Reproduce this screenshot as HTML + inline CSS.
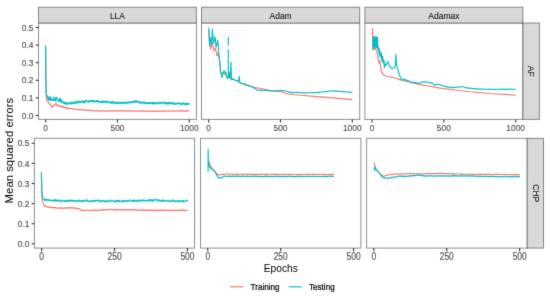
<!DOCTYPE html>
<html><head><meta charset="utf-8"><style>
html,body{margin:0;padding:0;background:#fff;}
svg{display:block;}
text{font-family:"Liberation Sans",Arial,sans-serif;}
.st{font-size:8.5px;fill:#1A1A1A;stroke:#1A1A1A;stroke-width:0.12px;text-anchor:middle;}
.yt{font-size:8.4px;fill:#4D4D4D;stroke:#4D4D4D;stroke-width:0.12px;text-anchor:end;}
.xt{font-size:8.4px;fill:#4D4D4D;stroke:#4D4D4D;stroke-width:0.12px;text-anchor:middle;}
.ti{font-size:10.2px;fill:#000;}
.lg{font-size:8.1px;fill:#000;stroke:#000;stroke-width:0.2px;}
</style></head><body>
<svg width="550" height="296" viewBox="0 0 550 296">
<filter id="b" x="0" y="0" width="550" height="296" filterUnits="userSpaceOnUse" color-interpolation-filters="sRGB"><feConvolveMatrix order="3" kernelMatrix="0.01000 0.08000 0.01000 0.08000 0.64000 0.08000 0.01000 0.08000 0.01000" divisor="1" edgeMode="duplicate"/></filter>
<g filter="url(#b)">
<rect x="0" y="0" width="550" height="296" fill="#fff"/>
<polyline points="45.60,45.50 45.90,85.00 46.10,91.00 46.30,97.00 46.50,98.60 46.70,100.20 46.99,100.61 47.28,101.06 47.56,101.29 47.85,101.45 48.14,102.38 48.42,102.75 48.71,103.02 49.00,103.68 49.30,103.67 49.60,103.85 49.90,103.95 50.20,104.36 50.50,104.56 50.80,105.03 51.10,105.71 51.40,105.75 51.70,106.28 52.00,107.18 52.29,107.11 52.57,106.64 52.86,106.12 53.14,105.58 53.43,105.51 53.71,106.03 54.00,105.55 54.29,104.81 54.57,104.94 54.86,104.90 55.14,104.56 55.43,104.18 55.71,103.19 56.00,103.05 56.25,103.58 56.50,103.91 56.75,105.05 57.00,105.97 57.30,105.67 57.60,105.46 57.90,105.87 58.20,105.76 58.50,105.76 58.80,105.83 59.10,105.54 59.40,106.02 59.70,106.19 60.00,106.07 60.29,105.78 60.59,106.10 60.88,105.72 61.18,105.76 61.47,106.66 61.76,107.05 62.06,107.03 62.35,106.62 62.65,106.27 62.94,106.24 63.24,106.96 63.53,107.41 63.82,107.46 64.12,106.98 64.41,106.96 64.71,107.56 65.00,108.05 65.29,108.04 65.59,107.40 65.88,107.67 66.18,108.13 66.47,107.88 66.76,107.75 67.06,107.49 67.35,108.14 67.65,108.66 67.94,108.73 68.24,108.74 68.53,108.43 68.82,108.14 69.12,108.42 69.41,108.29 69.71,108.54 70.00,108.40 70.29,108.57 70.59,108.45 70.88,108.48 71.18,108.59 71.47,108.72 71.76,108.61 72.06,108.61 72.35,108.54 72.65,108.66 72.94,108.77 73.24,108.77 73.53,108.98 73.82,109.04 74.12,109.19 74.41,109.22 74.71,109.21 75.00,109.39 75.29,109.40 75.59,109.40 75.88,109.27 76.18,109.26 76.47,109.29 76.76,109.52 77.06,109.32 77.35,109.21 77.65,109.18 77.94,109.35 78.24,109.64 78.53,109.63 78.82,109.42 79.12,109.48 79.41,109.61 79.71,109.73 80.00,109.72 80.29,109.82 80.59,109.97 80.88,109.93 81.18,109.78 81.47,109.78 81.76,109.74 82.06,109.65 82.35,109.70 82.65,109.78 82.94,109.84 83.24,109.92 83.53,110.14 83.82,110.36 84.12,110.37 84.41,110.37 84.71,110.36 85.00,110.35 85.30,110.46 85.60,110.39 85.90,110.21 86.20,110.06 86.50,110.16 86.80,110.10 87.10,110.09 87.40,110.32 87.70,110.45 88.00,110.35 88.30,110.48 88.60,110.39 88.90,110.32 89.20,110.58 89.50,110.43 89.80,110.40 90.10,110.55 90.40,110.40 90.70,110.51 91.00,110.39 91.30,110.39 91.60,110.46 91.90,110.67 92.20,110.66 92.50,110.83 92.80,110.78 93.10,110.75 93.40,110.66 93.70,110.56 94.00,110.67 94.30,110.84 94.60,110.72 94.90,110.96 95.20,110.92 95.50,110.76 95.80,110.80 96.10,110.74 96.40,110.73 96.70,110.73 97.00,110.61 97.30,110.85 97.60,111.06 97.90,110.90 98.20,110.98 98.50,110.89 98.80,110.85 99.10,111.02 99.40,110.77 99.70,110.89 100.00,111.17 100.30,111.02 100.60,111.14 100.90,111.15 101.20,111.18 101.50,111.08 101.80,110.99 102.10,111.02 102.40,110.79 102.70,110.86 103.00,110.91 103.30,110.89 103.60,110.75 103.90,110.80 104.20,110.94 104.50,110.98 104.80,111.11 105.10,111.13 105.40,111.20 105.70,111.15 106.00,111.02 106.30,110.92 106.60,111.03 106.90,110.82 107.20,110.79 107.50,111.12 107.80,111.09 108.10,111.10 108.40,111.03 108.70,110.94 109.00,110.69 109.30,110.75 109.60,110.99 109.90,110.95 110.20,110.86 110.50,111.05 110.80,110.85 111.10,110.83 111.40,110.80 111.70,110.95 112.00,110.80 112.30,110.65 112.60,110.60 112.90,110.65 113.20,110.73 113.50,110.89 113.80,110.98 114.10,111.21 114.40,111.26 114.70,111.16 115.00,111.10 115.30,111.18 115.60,111.10 115.90,110.69 116.20,110.63 116.50,110.72 116.80,110.71 117.10,110.85 117.40,110.77 117.70,110.72 118.00,110.70 118.30,110.71 118.60,110.98 118.90,111.04 119.20,110.91 119.50,110.70 119.79,110.84 120.09,110.94 120.39,110.77 120.69,110.74 120.99,110.61 121.29,110.61 121.59,110.72 121.89,110.84 122.19,110.97 122.49,111.09 122.79,110.84 123.08,110.74 123.38,110.96 123.68,110.73 123.98,110.76 124.28,111.16 124.58,111.13 124.88,110.87 125.18,110.75 125.48,110.83 125.78,110.94 126.07,111.12 126.37,110.93 126.67,110.84 126.97,111.14 127.27,111.05 127.57,110.76 127.87,110.74 128.17,110.85 128.47,110.82 128.77,111.02 129.07,111.01 129.36,110.85 129.66,111.13 129.96,111.27 130.26,111.29 130.56,111.20 130.86,111.09 131.16,110.82 131.46,110.67 131.76,110.82 132.06,111.21 132.36,111.25 132.65,111.25 132.95,111.08 133.25,111.07 133.55,110.82 133.85,110.78 134.15,110.90 134.45,111.05 134.75,111.09 135.05,111.06 135.35,111.04 135.64,111.16 135.94,111.30 136.24,111.18 136.54,111.16 136.84,110.90 137.14,110.96 137.44,111.11 137.74,111.11 138.04,110.97 138.34,111.07 138.64,111.32 138.93,111.25 139.23,111.09 139.53,110.84 139.83,110.77 140.13,110.84 140.43,110.97 140.73,111.21 141.03,110.93 141.33,110.90 141.63,110.91 141.93,111.05 142.22,110.86 142.52,110.78 142.82,110.83 143.12,110.97 143.42,111.19 143.72,111.26 144.02,111.05 144.32,111.06 144.62,111.31 144.92,111.26 145.21,111.06 145.51,111.30 145.81,111.32 146.11,111.08 146.41,111.13 146.71,111.00 147.01,111.00 147.31,111.13 147.61,111.18 147.91,111.18 148.21,111.15 148.50,111.10 148.80,111.24 149.10,111.20 149.40,111.36 149.70,111.24 150.00,111.06 150.30,111.01 150.60,111.12 150.89,111.15 151.19,111.23 151.49,111.13 151.79,111.02 152.08,111.20 152.38,111.07 152.68,111.32 152.98,111.45 153.28,111.45 153.57,111.27 153.87,111.02 154.17,111.08 154.47,111.15 154.76,111.20 155.06,111.15 155.36,111.18 155.66,111.02 155.95,111.04 156.25,111.14 156.55,111.06 156.85,111.03 157.15,111.34 157.44,111.36 157.74,111.31 158.04,111.19 158.34,111.38 158.63,111.43 158.93,111.36 159.23,111.06 159.53,111.05 159.82,111.08 160.12,111.12 160.42,110.95 160.72,110.88 161.02,111.06 161.31,111.16 161.61,111.16 161.91,111.31 162.21,111.11 162.50,111.04 162.80,111.22 163.10,111.10 163.40,110.95 163.70,111.03 163.99,111.35 164.29,111.41 164.59,111.20 164.89,111.04 165.18,111.10 165.48,110.95 165.78,110.96 166.08,111.05 166.38,111.01 166.67,111.06 166.97,111.22 167.27,111.00 167.57,110.99 167.86,110.80 168.16,110.75 168.46,110.93 168.76,111.28 169.05,111.30 169.35,111.19 169.65,110.92 169.95,111.05 170.25,111.03 170.54,111.03 170.84,111.10 171.14,110.98 171.44,110.97 171.73,110.90 172.03,110.95 172.33,110.97 172.63,110.83 172.93,110.85 173.22,110.94 173.52,111.04 173.82,111.18 174.12,111.14 174.41,111.13 174.71,111.15 175.01,110.86 175.31,110.75 175.60,110.83 175.90,110.82 176.20,110.98 176.50,110.98 176.80,110.86 177.09,111.05 177.39,111.04 177.69,111.03 177.99,111.23 178.28,111.18 178.58,110.85 178.88,110.84 179.18,111.07 179.48,110.92 179.77,111.01 180.07,110.90 180.37,110.88 180.67,111.04 180.96,111.10 181.26,110.74 181.56,110.75 181.86,110.99 182.15,110.91 182.45,110.91 182.75,111.10 183.05,110.94 183.35,111.08 183.64,111.24 183.94,111.17 184.24,111.12 184.54,111.13 184.83,111.08 185.13,110.89 185.43,111.00 185.73,111.16 186.03,111.22 186.32,111.24 186.62,111.11 186.92,110.77 187.22,110.79 187.51,110.94 187.81,111.08 188.11,110.90 188.41,110.70 188.70,110.60 189.00,110.77 189.30,111.00" fill="none" stroke="#F8766D" stroke-width="1.15" stroke-linejoin="round"/>
<polyline points="45.60,46.00 45.75,63.00 45.90,80.00 46.05,86.00 46.20,92.00 46.33,93.17 46.47,94.33 46.60,95.50 46.78,95.90 46.96,96.66 47.14,96.69 47.32,95.88 47.50,97.06 47.68,98.01 47.86,97.77 48.04,98.69 48.21,99.86 48.39,99.02 48.57,97.53 48.75,96.76 48.93,97.36 49.11,98.65 49.29,100.12 49.46,99.72 49.64,98.79 49.82,99.94 50.00,99.42 50.18,99.00 50.36,97.23 50.54,96.68 50.71,97.82 50.89,100.09 51.07,100.38 51.25,100.52 51.43,99.74 51.61,98.82 51.79,99.04 51.96,99.76 52.14,100.31 52.32,99.69 52.50,100.48 52.68,100.30 52.86,100.36 53.04,99.70 53.21,99.60 53.39,98.83 53.57,98.72 53.75,97.75 53.93,96.94 54.11,97.38 54.29,99.35 54.46,99.79 54.64,100.99 54.82,100.78 55.00,99.84 55.18,100.94 55.36,100.51 55.54,100.28 55.71,99.00 55.89,97.84 56.07,97.54 56.25,98.06 56.43,98.98 56.61,97.68 56.79,97.74 56.96,99.63 57.14,98.45 57.32,98.88 57.50,99.59 57.68,99.98 57.86,100.25 58.04,101.42 58.21,101.09 58.39,100.32 58.57,100.16 58.75,100.37 58.93,101.00 59.11,99.52 59.29,100.13 59.46,99.63 59.64,98.00 59.82,99.04 60.00,101.38 60.17,100.95 60.33,98.65 60.50,98.63 60.67,99.14 60.83,101.04 61.00,99.66 61.17,99.94 61.33,102.70 61.50,101.98 61.67,100.83 61.83,100.37 62.00,101.95 62.17,102.24 62.35,102.24 62.52,101.52 62.70,101.54 62.87,101.90 63.04,102.31 63.22,102.42 63.39,102.73 63.57,102.74 63.74,103.73 63.91,103.70 64.09,102.23 64.26,102.20 64.43,103.09 64.61,103.29 64.78,102.25 64.96,102.24 65.13,102.96 65.30,103.68 65.48,104.24 65.65,104.31 65.83,103.75 66.00,102.96 66.18,103.96 66.35,103.54 66.53,102.47 66.71,102.67 66.88,103.29 67.06,103.12 67.24,103.30 67.41,103.99 67.59,104.07 67.76,103.72 67.94,103.77 68.12,103.56 68.29,104.12 68.47,104.01 68.65,103.89 68.82,102.94 69.00,103.70 69.18,103.71 69.35,103.48 69.53,102.85 69.71,103.02 69.88,102.65 70.06,102.10 70.24,102.34 70.41,103.76 70.59,103.60 70.76,102.65 70.94,102.58 71.12,103.20 71.29,103.53 71.47,102.99 71.65,104.08 71.82,104.13 72.00,103.09 72.17,103.17 72.35,103.06 72.52,103.09 72.70,102.38 72.87,102.73 73.04,103.16 73.22,103.29 73.39,103.51 73.57,103.47 73.74,102.33 73.91,101.88 74.09,102.31 74.26,102.97 74.43,103.59 74.61,103.35 74.78,103.34 74.96,103.32 75.13,102.14 75.30,101.76 75.48,101.92 75.65,101.96 75.83,102.66 76.00,102.90 76.17,101.85 76.35,102.10 76.52,102.49 76.70,102.49 76.87,103.02 77.04,103.03 77.22,102.71 77.39,101.44 77.57,101.04 77.74,101.30 77.91,102.67 78.09,102.78 78.26,101.61 78.43,102.38 78.61,102.83 78.78,102.72 78.96,101.94 79.13,102.06 79.30,101.35 79.48,101.17 79.65,101.84 79.83,101.36 80.00,101.85 80.18,101.61 80.36,101.96 80.54,102.42 80.71,101.62 80.89,101.56 81.07,101.38 81.25,101.18 81.43,101.40 81.61,101.41 81.79,102.23 81.96,102.06 82.14,101.76 82.32,102.41 82.50,101.88 82.68,102.12 82.86,102.14 83.04,101.17 83.21,100.96 83.39,102.42 83.57,102.58 83.75,101.18 83.93,100.84 84.11,101.42 84.29,102.11 84.46,102.89 84.64,103.09 84.82,102.66 85.00,101.54 85.18,101.63 85.36,101.41 85.54,100.84 85.71,100.47 85.89,100.66 86.07,100.90 86.25,100.55 86.43,100.43 86.61,100.61 86.79,101.50 86.96,101.46 87.14,101.09 87.32,101.38 87.50,101.50 87.68,102.02 87.86,102.29 88.04,101.58 88.21,101.49 88.39,101.33 88.57,102.17 88.75,101.73 88.93,100.76 89.11,100.60 89.29,100.48 89.46,100.53 89.64,101.07 89.82,101.85 90.00,101.38 90.18,100.93 90.36,100.98 90.54,101.08 90.71,101.42 90.89,100.63 91.07,100.66 91.25,100.78 91.43,100.88 91.61,101.46 91.79,100.87 91.96,100.60 92.14,100.66 92.32,101.54 92.50,101.43 92.68,101.46 92.86,100.73 93.04,100.29 93.21,100.99 93.39,102.03 93.57,102.12 93.75,101.58 93.93,101.70 94.11,100.85 94.29,101.07 94.46,100.98 94.64,101.02 94.82,101.15 95.00,101.87 95.18,101.60 95.36,101.90 95.54,100.98 95.71,101.06 95.89,101.44 96.07,101.71 96.25,101.30 96.43,101.10 96.61,100.57 96.79,101.00 96.96,101.52 97.14,100.87 97.32,101.01 97.50,100.78 97.68,100.49 97.86,100.78 98.04,101.93 98.21,101.93 98.39,101.31 98.57,101.36 98.75,101.90 98.93,102.06 99.11,102.55 99.29,102.49 99.46,101.81 99.64,101.80 99.82,101.56 100.00,101.20 100.18,101.46 100.36,101.87 100.54,101.80 100.72,101.77 100.90,101.84 101.07,102.42 101.25,102.06 101.43,101.33 101.61,102.12 101.79,102.60 101.97,102.26 102.15,101.49 102.33,101.23 102.51,100.97 102.69,100.84 102.87,101.60 103.04,102.37 103.22,102.40 103.40,102.30 103.58,102.45 103.76,102.04 103.94,101.57 104.12,102.03 104.30,101.94 104.48,102.25 104.66,101.53 104.84,101.22 105.01,101.78 105.19,101.55 105.37,102.19 105.55,102.07 105.73,102.04 105.91,101.36 106.09,101.83 106.27,102.02 106.45,101.50 106.63,101.73 106.81,101.35 106.99,101.40 107.16,101.73 107.34,101.91 107.52,101.32 107.70,101.48 107.88,102.41 108.06,102.50 108.24,101.98 108.42,101.80 108.60,102.24 108.78,102.04 108.96,101.98 109.13,102.44 109.31,102.01 109.49,102.51 109.67,102.56 109.85,102.54 110.03,102.66 110.21,102.86 110.39,103.13 110.57,102.93 110.75,101.88 110.93,101.78 111.10,102.53 111.28,101.85 111.46,101.84 111.64,102.85 111.82,103.35 112.00,103.09 112.18,102.46 112.35,102.41 112.53,103.18 112.71,103.07 112.88,102.47 113.06,101.57 113.24,101.46 113.41,101.76 113.59,102.73 113.76,102.14 113.94,101.92 114.12,102.35 114.29,102.17 114.47,102.74 114.65,103.52 114.82,103.30 115.00,102.66 115.18,103.13 115.35,102.76 115.53,102.60 115.71,102.73 115.88,103.34 116.06,102.86 116.24,103.13 116.41,103.22 116.59,102.99 116.76,102.36 116.94,102.99 117.12,103.72 117.29,103.12 117.47,102.27 117.65,102.01 117.82,102.61 118.00,103.05 118.18,102.15 118.36,102.13 118.54,103.20 118.72,103.64 118.90,103.15 119.08,103.02 119.26,102.55 119.44,102.49 119.62,102.67 119.79,102.50 119.97,102.57 120.15,102.62 120.33,103.52 120.51,103.20 120.69,102.25 120.87,102.44 121.05,103.24 121.23,102.80 121.41,102.26 121.59,102.17 121.77,103.01 121.95,103.32 122.13,103.34 122.31,102.73 122.49,103.33 122.67,103.74 122.85,103.73 123.03,103.45 123.21,102.73 123.38,102.26 123.56,102.66 123.74,102.04 123.92,101.98 124.10,102.36 124.28,102.25 124.46,102.82 124.64,103.26 124.82,102.73 125.00,103.45 125.18,103.57 125.35,102.35 125.53,102.58 125.71,103.21 125.89,103.14 126.06,102.70 126.24,103.04 126.42,102.52 126.60,102.17 126.77,102.60 126.95,103.01 127.13,103.30 127.31,102.82 127.48,102.06 127.66,102.38 127.84,102.44 128.02,102.52 128.19,101.97 128.37,102.63 128.55,102.75 128.73,101.61 128.90,101.61 129.08,102.95 129.26,103.01 129.44,102.26 129.61,102.76 129.79,102.37 129.97,102.23 130.15,102.12 130.32,102.15 130.50,102.77 130.68,102.77 130.85,102.95 131.03,102.77 131.21,102.84 131.39,102.32 131.56,102.07 131.74,101.88 131.92,101.42 132.10,101.97 132.27,101.78 132.45,102.22 132.63,101.56 132.81,102.13 132.98,102.43 133.16,101.86 133.34,101.39 133.52,102.00 133.69,101.57 133.87,101.45 134.05,102.18 134.23,102.35 134.40,101.29 134.58,101.46 134.76,101.78 134.94,101.60 135.11,102.21 135.29,101.75 135.47,100.78 135.65,100.60 135.82,100.76 136.00,101.46 136.18,101.95 136.36,100.99 136.54,100.69 136.72,101.03 136.90,101.58 137.08,101.57 137.26,101.36 137.44,101.31 137.62,102.08 137.80,102.13 137.98,102.15 138.16,101.30 138.34,101.51 138.52,101.87 138.70,102.51 138.88,102.47 139.06,101.97 139.24,101.62 139.42,102.38 139.60,102.96 139.78,103.01 139.96,103.08 140.14,102.48 140.32,101.83 140.50,101.87 140.68,102.76 140.86,103.02 141.04,102.86 141.22,102.87 141.40,102.71 141.58,103.07 141.76,102.81 141.94,102.23 142.12,102.60 142.30,102.68 142.48,102.42 142.66,103.29 142.84,103.16 143.02,102.13 143.20,101.82 143.38,102.04 143.56,103.02 143.74,102.68 143.92,103.18 144.10,102.81 144.28,102.05 144.46,102.10 144.64,102.55 144.82,103.19 145.00,102.74 145.18,102.60 145.36,103.52 145.54,103.03 145.72,102.58 145.90,103.60 146.08,103.49 146.26,102.81 146.44,102.52 146.62,102.91 146.80,102.70 146.98,103.61 147.16,103.73 147.34,103.60 147.52,103.72 147.70,103.69 147.88,103.30 148.06,103.27 148.24,102.66 148.42,103.24 148.60,103.35 148.78,102.48 148.96,102.46 149.14,103.65 149.32,103.62 149.50,102.64 149.68,102.77 149.86,102.39 150.04,102.60 150.22,103.60 150.40,103.61 150.58,103.37 150.76,102.94 150.94,103.41 151.12,103.33 151.30,102.85 151.48,102.78 151.66,102.66 151.84,102.85 152.02,102.53 152.20,102.94 152.38,103.61 152.56,103.48 152.74,103.04 152.92,102.62 153.10,103.36 153.28,103.59 153.46,103.99 153.64,104.13 153.82,103.92 154.00,103.42 154.18,103.23 154.35,102.27 154.53,102.21 154.71,103.28 154.88,103.62 155.06,103.65 155.24,102.88 155.41,102.99 155.59,103.45 155.76,103.44 155.94,103.48 156.12,103.13 156.29,103.60 156.47,103.87 156.65,103.68 156.82,103.17 157.00,103.38 157.18,102.86 157.35,103.19 157.53,103.76 157.71,103.40 157.88,103.02 158.06,102.70 158.24,102.80 158.41,102.94 158.59,103.14 158.76,102.90 158.94,102.41 159.12,102.51 159.29,103.49 159.47,103.09 159.65,102.28 159.82,102.46 160.00,102.81 160.18,102.69 160.36,103.32 160.54,103.19 160.72,103.23 160.90,103.02 161.08,102.64 161.26,103.55 161.44,103.46 161.62,102.55 161.80,102.84 161.98,102.89 162.16,102.57 162.34,102.51 162.52,102.57 162.70,102.99 162.88,102.71 163.06,102.17 163.24,102.17 163.42,102.37 163.60,103.05 163.78,103.11 163.96,102.91 164.14,103.11 164.32,103.12 164.50,102.44 164.68,102.46 164.86,103.40 165.04,102.70 165.22,102.63 165.40,103.54 165.58,103.78 165.76,102.73 165.94,102.97 166.12,103.43 166.30,102.56 166.48,102.61 166.66,103.39 166.84,103.55 167.02,102.70 167.20,102.91 167.38,103.33 167.56,103.36 167.74,103.57 167.92,104.28 168.10,104.11 168.28,102.93 168.46,102.69 168.64,102.79 168.82,102.43 169.00,102.57 169.18,103.48 169.35,104.00 169.53,103.10 169.71,102.82 169.88,103.26 170.06,102.84 170.24,102.29 170.41,102.68 170.59,103.55 170.76,103.05 170.94,103.37 171.12,103.49 171.29,103.80 171.47,103.44 171.65,102.87 171.82,102.71 172.00,102.75 172.18,102.78 172.35,102.84 172.53,103.08 172.71,103.55 172.88,103.36 173.06,102.80 173.24,103.39 173.41,104.38 173.59,104.35 173.76,103.31 173.94,102.81 174.12,102.86 174.29,102.76 174.47,103.23 174.65,104.32 174.82,104.38 175.00,103.75 175.18,103.76 175.36,104.05 175.54,104.13 175.72,104.15 175.89,104.14 176.07,103.70 176.25,103.21 176.43,103.83 176.61,103.83 176.79,103.05 176.97,103.07 177.15,103.66 177.32,103.72 177.50,103.98 177.68,103.58 177.86,103.88 178.04,103.75 178.22,103.03 178.40,103.07 178.57,103.25 178.75,103.11 178.93,102.83 179.11,103.11 179.29,103.50 179.47,103.39 179.65,103.76 179.83,103.65 180.00,103.48 180.18,103.41 180.36,103.82 180.54,103.48 180.72,104.28 180.90,104.37 181.08,104.54 181.26,104.01 181.44,103.51 181.61,103.73 181.79,104.40 181.97,104.00 182.15,103.47 182.33,103.03 182.51,103.04 182.69,103.48 182.87,103.86 183.04,104.08 183.22,103.37 183.40,103.38 183.58,103.12 183.76,103.27 183.94,103.91 184.12,104.25 184.30,103.31 184.47,103.27 184.65,104.04 184.83,103.81 185.01,103.35 185.19,104.19 185.37,104.82 185.55,104.76 185.73,104.92 185.90,104.45 186.08,103.93 186.26,104.33 186.44,103.97 186.62,103.25 186.80,103.73 186.98,104.64 187.16,104.35 187.33,103.93 187.51,104.30 187.69,104.17 187.87,103.50 188.05,103.89 188.23,104.23 188.41,103.56 188.59,103.66 188.76,103.30 188.94,103.58 189.12,104.22 189.30,103.92" fill="none" stroke="#00BFC4" stroke-width="1.15" stroke-linejoin="round"/>
<polyline points="208.80,29.50 209.40,40.00 210.50,49.00 212.30,42.50 214.00,51.00 215.50,48.00 217.00,55.80 218.00,53.00 219.50,60.00 220.60,73.20 222.60,72.70 226.10,75.20 228.20,77.70 231.20,78.70 235.30,80.30 241.30,83.30 245.80,84.60 254.50,87.20 269.10,90.40 280.70,91.80 288.00,94.00 298.20,95.00 320.00,96.90 330.00,97.60 352.40,99.60" fill="none" stroke="#F8766D" stroke-width="1.15" stroke-linejoin="round"/>
<polyline points="208.80,27.40 209.15,36.70 209.50,46.00 210.00,42.00 210.50,38.00 211.00,41.00 211.50,44.00 211.95,36.70 212.40,29.40 212.77,33.93 213.13,38.47 213.50,43.00 213.90,41.50 214.30,40.00 214.70,38.40 215.10,36.80 215.55,41.90 216.00,47.00 216.50,45.50 217.00,44.00 217.40,42.10 217.80,40.20 218.20,45.13 218.60,50.07 219.00,55.00 219.30,57.50 219.60,60.00 219.90,63.00 220.20,66.00 220.50,69.35 220.80,72.70 221.15,73.85 221.50,75.00 221.80,76.35 222.10,77.70 222.50,75.95 222.90,74.20 223.20,73.10 223.50,72.00 223.80,71.30 224.10,70.60 224.60,71.90 225.10,73.20 225.50,72.70 225.90,72.20 226.27,74.20 226.63,76.20 227.00,78.20 227.45,77.80 227.90,77.40 228.35,77.00 228.77,74.60 229.20,72.20 229.70,78.20 230.05,77.10 230.40,76.00 230.90,62.00 231.40,79.80 231.83,79.43 232.27,79.07 232.70,78.70 233.10,78.97 233.50,79.25 233.90,79.53 234.30,79.80 234.80,80.05 235.30,80.30 235.80,80.55 236.30,80.80 236.76,80.74 237.22,80.68 237.68,80.62 238.14,80.56 238.60,80.50 238.95,78.35 239.30,76.20 239.80,82.80 240.30,83.05 240.80,83.30 241.30,83.59 241.80,83.70 242.23,83.65 242.67,83.71 243.10,83.80 243.53,83.80 243.97,83.63 244.40,83.44 244.90,84.16 245.40,84.82 245.90,84.87 246.40,85.13 246.90,85.29 247.40,85.50 247.90,85.71 248.40,85.87 248.84,85.97 249.29,86.07 249.73,86.14 250.17,86.30 250.61,86.40 251.06,86.62 251.50,86.84 252.00,87.10 252.50,87.20 253.00,87.33 253.50,87.65 254.00,87.88 254.50,88.20 255.00,88.38 255.50,88.73 256.00,89.18 256.50,89.41 257.00,89.69 257.50,90.04 257.98,90.06 258.47,90.01 258.95,90.17 259.43,90.30 259.92,90.27 260.40,90.32 260.88,90.41 261.37,90.41 261.85,90.39 262.33,90.42 262.82,90.39 263.30,90.26 263.78,90.27 264.27,90.26 264.75,90.27 265.23,90.35 265.72,90.35 266.20,90.43 266.69,90.44 267.17,90.38 267.66,90.47 268.15,90.57 268.63,90.64 269.12,90.54 269.61,90.59 270.09,90.73 270.58,90.81 271.07,90.89 271.55,90.85 272.04,90.90 272.53,91.08 273.01,90.98 273.50,90.95 273.98,90.94 274.46,90.91 274.94,90.87 275.42,90.94 275.90,90.96 276.38,90.74 276.86,90.73 277.34,90.81 277.82,90.86 278.30,90.79 278.78,90.53 279.26,90.55 279.74,90.57 280.22,90.36 280.70,90.35 281.18,90.40 281.67,90.61 282.15,90.74 282.63,90.64 283.12,90.50 283.60,90.56 284.08,90.77 284.57,90.94 285.05,90.90 285.53,91.00 286.02,91.01 286.50,91.04 286.96,91.29 287.43,91.40 287.89,91.59 288.35,91.87 288.81,92.03 289.27,92.24 289.74,92.32 290.20,92.39 290.70,92.47 291.20,92.59 291.70,92.57 292.20,92.55 292.70,92.32 293.20,92.35 293.70,92.50 294.20,92.49 294.70,92.44 295.20,92.47 295.70,92.51 296.20,92.45 296.70,92.38 297.20,92.37 297.70,92.35 298.20,92.28 298.68,92.40 299.17,92.50 299.65,92.57 300.13,92.52 300.62,92.51 301.10,92.65 301.58,92.78 302.07,92.82 302.55,92.85 303.03,92.86 303.52,92.92 304.00,93.01 304.50,92.94 305.00,93.02 305.50,93.05 306.00,93.00 306.50,92.83 307.00,92.80 307.50,92.89 308.00,92.82 308.50,92.75 309.00,92.76 309.50,92.76 310.00,92.69 310.50,92.70 311.00,92.74 311.50,92.69 312.00,92.59 312.50,92.65 313.00,92.61 313.50,92.57 314.00,92.56 314.50,92.53 315.00,92.56 315.50,92.47 316.00,92.45 316.50,92.40 317.00,92.46 317.50,92.51 318.00,92.46 318.50,92.33 319.00,92.37 319.50,92.38 320.00,92.26 320.50,92.22 321.00,92.23 321.50,92.18 322.00,92.08 322.50,92.04 323.00,91.98 323.50,91.89 324.00,91.86 324.50,91.82 325.00,91.76 325.50,91.67 326.00,91.58 326.50,91.55 327.00,91.55 327.50,91.38 328.00,91.27 328.50,91.23 329.00,91.32 329.50,91.30 330.00,91.11 330.50,91.01 331.00,90.97 331.50,90.97 332.00,90.94 332.50,90.90 333.00,90.79 333.50,90.89 334.00,90.92 334.50,90.99 335.00,91.06 335.50,91.10 336.00,91.08 336.50,91.11 337.00,91.13 337.50,91.12 338.00,91.22 338.50,91.35 339.00,91.36 339.50,91.28 340.00,91.37 340.50,91.37 341.00,91.36 341.50,91.43 342.00,91.60 342.50,91.68 343.00,91.65 343.50,91.65 344.00,91.72 344.50,91.82 345.00,91.83 345.50,91.75 346.00,91.81 346.50,91.96 347.00,91.98 347.50,92.04 348.00,92.10 348.50,92.13 349.00,92.17 349.50,92.16 350.00,92.14 350.48,92.22 350.96,92.36 351.44,92.33 351.92,92.47 352.40,92.58" fill="none" stroke="#00BFC4" stroke-width="1.15" stroke-linejoin="round"/>
<line x1="228.35" y1="36.9" x2="228.35" y2="45.8" stroke="#00BFC4" stroke-width="1.15"/>
<line x1="228.35" y1="49.6" x2="228.35" y2="77" stroke="#00BFC4" stroke-width="1.15"/>
<polyline points="372.60,28.00 372.70,49.40 373.50,49.50 375.10,48.30 377.20,52.40 378.20,59.50 379.20,63.60 379.80,61.00 380.40,64.60 381.20,70.70 383.20,74.70 386.30,76.30 390.00,77.00 394.40,77.80 400.00,79.60 410.00,82.30 420.00,84.60 430.00,86.30 440.00,88.10 455.00,90.00 470.00,91.70 490.00,93.50 515.80,95.20" fill="none" stroke="#F8766D" stroke-width="1.15" stroke-linejoin="round"/>
<polyline points="372.80,47.30 372.80,47.25 373.08,37.80 373.36,48.75 373.64,36.21 373.92,47.68 374.20,37.11 374.48,46.46 374.76,36.41 375.04,47.29 375.32,38.45 375.60,46.22 375.88,37.66 376.16,47.57 376.44,36.71 376.72,45.95 377.00,37.40 377.28,48.64 377.56,37.29 377.84,46.21 378.10,47.25 378.43,50.84 378.76,47.49 379.09,53.76 379.42,49.10 379.75,56.18 380.08,51.02 380.41,55.45 380.74,53.61 381.07,57.83 381.40,53.35 381.73,60.81 382.06,55.91 382.39,60.88 382.72,56.53 383.05,62.13 383.38,60.01 383.71,63.79 384.04,60.35 384.37,67.55 385.00,64.00 385.45,64.80 385.90,65.60 386.35,64.30 386.80,63.00 387.17,62.50 387.53,62.00 387.90,61.50 388.25,63.00 388.60,64.50 388.95,65.05 389.30,65.60 389.72,66.20 390.14,66.80 390.56,67.40 390.98,68.00 391.40,68.60 391.80,68.57 392.20,68.55 392.60,68.53 393.00,68.50 393.47,68.20 393.93,67.90 394.40,67.60 394.85,66.80 395.30,66.00 395.60,60.20 395.90,54.40 396.40,64.00 396.90,65.80 397.40,67.60 397.77,69.07 398.13,70.53 398.50,72.00 399.00,73.35 399.50,74.70 400.00,76.23 400.50,77.61 401.00,78.71 401.50,79.85 401.97,79.99 402.43,79.89 402.90,79.45 403.37,79.34 403.83,79.16 404.30,78.89 404.75,79.23 405.20,79.90 405.65,80.08 406.10,79.99 406.55,80.15 407.00,80.14 407.50,80.66 408.00,80.85 408.50,81.02 409.00,80.93 409.50,81.05 410.00,81.38 410.50,81.91 411.00,81.96 411.50,82.23 412.00,82.79 412.50,82.74 413.00,82.38 413.50,82.32 414.00,82.47 414.50,82.18 415.00,82.33 415.50,82.90 416.00,83.07 416.50,82.77 417.00,82.86 417.50,83.44 418.00,83.59 418.50,83.23 419.00,83.10 419.50,82.89 420.00,83.04 420.50,82.92 421.00,82.68 421.50,82.26 422.00,82.24 422.50,82.03 423.00,81.83 423.50,81.88 424.00,82.09 424.50,82.19 425.00,82.15 425.50,81.89 426.00,81.90 426.50,81.97 427.00,82.22 427.50,82.34 428.00,82.30 428.50,82.60 429.00,82.67 429.50,82.72 430.00,82.92 430.50,83.15 431.00,82.94 431.50,82.61 432.00,82.72 432.46,83.45 432.92,83.86 433.38,84.45 433.84,84.80 434.30,85.18 434.76,85.10 435.21,84.68 435.67,84.47 436.13,84.37 436.59,84.40 437.04,84.58 437.50,84.47 438.00,84.56 438.50,84.44 439.00,84.20 439.50,84.44 440.00,84.86 440.50,85.11 441.00,85.13 441.50,85.32 442.00,85.53 442.50,85.58 443.00,85.80 443.50,85.93 444.00,86.04 444.50,86.20 445.00,86.26 445.50,86.32 446.00,86.67 446.50,86.89 447.00,86.90 447.50,86.85 448.00,87.02 448.50,87.13 449.00,87.09 449.50,87.29 450.00,87.34 450.50,87.48 451.00,87.42 451.50,87.50 452.00,87.36 452.50,87.42 453.00,87.58 453.50,87.64 454.00,87.57 454.50,87.53 455.00,87.43 455.50,87.41 456.00,87.33 456.50,87.40 457.00,87.31 457.50,87.14 458.00,87.09 458.50,86.93 459.00,87.07 459.50,86.99 460.00,86.81 460.50,86.84 461.00,86.85 461.50,86.78 462.00,86.74 462.50,86.71 463.00,86.75 463.50,86.87 464.00,86.98 464.50,87.20 465.00,87.46 465.50,87.62 466.00,87.69 466.50,87.86 467.00,88.02 467.50,87.93 468.00,87.81 468.50,87.93 469.00,87.91 469.50,88.18 470.00,88.37 470.50,88.35 471.00,88.40 471.50,88.30 472.00,88.50 472.50,88.46 473.00,88.61 473.50,88.57 474.00,88.57 474.50,88.54 475.00,88.62 475.50,88.88 476.00,88.91 476.50,88.76 477.00,88.84 477.50,88.86 478.00,88.97 478.50,88.84 479.00,88.97 479.50,89.11 480.00,89.05 480.50,89.09 481.00,89.16 481.50,89.17 482.00,89.14 482.50,89.04 483.00,89.18 483.50,89.18 484.00,89.27 484.50,89.27 485.00,89.30 485.50,89.29 486.00,89.12 486.50,89.24 487.00,89.21 487.50,89.27 488.00,89.17 488.50,89.16 489.00,89.17 489.50,89.33 490.00,89.26 490.50,89.30 490.99,89.39 491.49,89.34 491.98,89.42 492.48,89.40 492.98,89.49 493.47,89.51 493.97,89.54 494.47,89.41 494.96,89.26 495.46,89.34 495.95,89.51 496.45,89.48 496.95,89.23 497.44,89.15 497.94,89.20 498.43,89.28 498.93,89.23 499.43,89.32 499.92,89.30 500.42,89.37 500.92,89.30 501.41,89.40 501.91,89.23 502.40,89.07 502.90,89.16 503.40,89.33 503.89,89.19 504.39,89.23 504.88,89.44 505.38,89.35 505.88,89.35 506.37,89.33 506.87,89.34 507.37,89.38 507.86,89.17 508.36,89.20 508.85,89.29 509.35,89.39 509.85,89.34 510.34,89.10 510.84,89.06 511.33,89.14 511.83,89.24 512.33,89.41 512.82,89.47 513.32,89.47 513.82,89.31 514.31,89.22 514.81,89.21 515.30,89.45 515.80,89.49" fill="none" stroke="#00BFC4" stroke-width="1.15" stroke-linejoin="round"/>
<polyline points="41.40,173.00 41.60,182.50 41.80,192.00 42.00,195.17 42.20,198.33 42.40,201.50 42.68,202.12 42.97,202.73 43.25,203.35 43.53,203.97 43.82,204.58 44.10,205.03 44.39,205.39 44.68,206.00 44.97,206.25 45.26,206.27 45.54,206.15 45.83,206.34 46.12,206.54 46.41,206.45 46.70,206.78 47.00,206.88 47.30,207.09 47.60,206.83 47.90,207.16 48.20,207.32 48.50,207.10 48.80,207.46 49.10,207.43 49.40,207.01 49.70,207.17 50.00,206.98 50.30,207.20 50.60,207.25 50.90,207.13 51.20,207.30 51.50,207.58 51.80,207.33 52.10,207.25 52.40,207.57 52.70,207.63 53.00,207.71 53.30,207.44 53.60,207.50 53.90,207.82 54.20,207.75 54.50,207.64 54.80,207.42 55.10,207.44 55.40,207.87 55.70,207.69 56.00,207.94 56.30,207.95 56.60,208.14 56.90,208.04 57.20,208.23 57.50,208.03 57.80,207.86 58.10,208.15 58.40,208.25 58.70,208.22 59.00,208.03 59.30,207.92 59.60,208.03 59.89,207.88 60.19,208.15 60.49,208.18 60.79,208.07 61.08,208.16 61.38,207.87 61.68,207.95 61.97,208.18 62.27,208.05 62.57,208.16 62.87,208.24 63.16,208.45 63.46,208.50 63.76,208.33 64.06,208.16 64.35,207.83 64.65,208.10 64.95,208.22 65.24,207.96 65.54,207.93 65.84,208.02 66.14,208.19 66.43,207.85 66.73,207.66 67.03,207.48 67.33,207.73 67.62,208.05 67.92,208.30 68.22,208.22 68.51,207.94 68.81,208.07 69.11,207.80 69.41,207.89 69.70,207.62 70.00,207.55 70.30,207.58 70.59,208.08 70.89,208.10 71.19,207.71 71.48,207.79 71.78,207.76 72.07,207.90 72.37,207.92 72.67,207.82 72.96,208.14 73.26,207.96 73.56,207.87 73.85,207.64 74.15,207.57 74.44,207.76 74.74,208.07 75.04,208.54 75.33,208.58 75.63,208.29 75.93,208.25 76.22,208.46 76.52,208.55 76.81,208.35 77.11,208.48 77.41,208.38 77.70,208.48 78.00,208.59 78.28,208.65 78.56,208.87 78.83,208.90 79.11,208.56 79.39,208.59 79.67,208.83 79.94,209.05 80.22,209.16 80.50,209.24 80.80,209.55 81.10,210.08 81.40,210.39 81.70,210.21 82.00,210.25 82.30,210.35 82.60,210.58 82.90,210.75 83.20,210.76 83.50,210.47 83.80,210.48 84.10,210.41 84.40,210.53 84.70,210.37 85.00,210.60 85.30,210.55 85.60,210.57 85.90,210.44 86.20,210.27 86.50,210.24 86.80,209.97 87.10,209.97 87.40,210.31 87.70,210.47 88.00,210.52 88.30,210.15 88.60,210.32 88.90,210.43 89.20,210.52 89.50,210.59 89.80,210.49 90.10,210.45 90.40,210.44 90.70,210.42 91.00,210.26 91.30,210.42 91.60,210.46 91.90,210.34 92.20,210.74 92.50,210.80 92.80,210.74 93.10,210.35 93.40,210.25 93.70,210.11 94.00,209.90 94.30,209.88 94.60,210.19 94.90,210.52 95.20,210.29 95.50,210.40 95.80,210.16 96.10,209.95 96.40,210.12 96.70,210.45 97.00,210.46 97.30,210.42 97.60,210.32 97.90,210.22 98.20,210.44 98.50,210.63 98.80,210.34 99.10,210.44 99.40,210.20 99.70,210.08 100.00,210.10 100.29,210.13 100.59,210.50 100.88,210.21 101.18,209.85 101.47,209.65 101.76,209.65 102.06,209.78 102.35,209.97 102.65,210.20 102.94,210.45 103.24,210.28 103.53,209.84 103.82,209.98 104.12,210.06 104.41,209.68 104.71,209.88 105.00,209.78 105.30,209.84 105.60,209.67 105.90,209.75 106.19,209.65 106.49,209.49 106.79,209.88 107.09,210.00 107.39,209.75 107.69,209.74 107.99,209.98 108.28,209.82 108.58,209.94 108.88,209.72 109.18,209.58 109.48,209.49 109.78,209.32 110.07,209.39 110.37,209.37 110.67,209.36 110.97,209.64 111.27,209.59 111.57,209.29 111.87,209.47 112.16,209.87 112.46,209.54 112.76,209.67 113.06,209.94 113.36,209.55 113.66,209.66 113.96,209.82 114.25,209.37 114.55,209.42 114.85,210.00 115.15,209.93 115.45,209.62 115.75,209.62 116.04,209.66 116.34,210.09 116.64,210.07 116.94,209.56 117.24,209.60 117.54,209.52 117.84,209.68 118.13,209.97 118.43,209.90 118.73,209.56 119.03,209.56 119.33,209.65 119.63,209.72 119.93,209.95 120.22,209.99 120.52,209.71 120.82,209.59 121.12,209.42 121.42,209.69 121.72,210.07 122.01,209.91 122.31,209.85 122.61,209.89 122.91,209.94 123.21,209.97 123.51,209.65 123.81,209.70 124.10,210.03 124.40,210.00 124.70,210.04 125.00,209.72 125.30,209.92 125.60,209.85 125.89,209.88 126.19,210.00 126.49,209.66 126.79,209.70 127.08,209.63 127.38,209.75 127.68,210.02 127.98,209.93 128.27,209.93 128.57,209.71 128.87,210.23 129.17,210.37 129.46,210.05 129.76,209.76 130.06,209.87 130.36,209.69 130.65,209.64 130.95,209.45 131.25,209.42 131.55,209.51 131.85,209.71 132.14,210.05 132.44,209.92 132.74,210.01 133.04,209.58 133.33,209.42 133.63,209.65 133.93,210.26 134.23,210.20 134.52,209.82 134.82,210.13 135.12,209.85 135.42,209.79 135.71,209.95 136.01,209.94 136.31,210.27 136.61,210.07 136.90,210.07 137.20,210.06 137.50,209.97 137.80,210.29 138.10,210.50 138.39,210.15 138.69,209.87 138.99,210.24 139.29,210.28 139.58,210.16 139.88,210.15 140.18,209.92 140.48,209.91 140.77,209.98 141.07,209.84 141.37,210.01 141.67,209.87 141.96,209.98 142.26,210.40 142.56,210.25 142.86,210.04 143.15,210.36 143.45,210.67 143.75,210.65 144.05,210.45 144.35,210.16 144.64,210.23 144.94,210.18 145.24,209.98 145.54,210.26 145.83,210.28 146.13,210.30 146.43,210.30 146.73,209.92 147.02,210.05 147.32,210.48 147.62,210.17 147.92,209.93 148.21,209.85 148.51,210.05 148.81,210.16 149.11,209.91 149.40,209.97 149.70,209.98 150.00,210.06 150.30,210.54 150.60,210.80 150.90,210.70 151.19,210.26 151.49,209.94 151.79,210.10 152.09,210.26 152.39,210.28 152.69,210.50 152.98,210.63 153.28,210.65 153.58,210.32 153.88,210.21 154.18,210.64 154.48,210.60 154.77,210.07 155.07,210.05 155.37,210.44 155.67,210.69 155.97,210.61 156.27,210.01 156.57,209.96 156.86,210.20 157.16,210.40 157.46,210.55 157.76,210.43 158.06,210.29 158.36,210.17 158.65,210.39 158.95,210.53 159.25,210.59 159.55,210.12 159.85,209.95 160.15,210.09 160.44,210.16 160.74,210.17 161.04,210.13 161.34,210.48 161.64,210.49 161.94,210.15 162.23,210.41 162.53,210.09 162.83,210.09 163.13,210.26 163.43,210.21 163.73,210.17 164.03,210.52 164.32,210.57 164.62,210.14 164.92,210.04 165.22,210.19 165.52,210.20 165.82,210.66 166.11,210.78 166.41,210.65 166.71,210.43 167.01,210.50 167.31,210.33 167.61,210.20 167.90,209.94 168.20,209.96 168.50,210.29 168.80,210.28 169.10,210.62 169.40,210.53 169.70,210.52 169.99,210.61 170.29,210.19 170.59,209.89 170.89,210.03 171.19,210.18 171.49,210.04 171.78,210.17 172.08,210.45 172.38,210.29 172.68,210.15 172.98,210.14 173.28,210.44 173.57,210.65 173.87,210.33 174.17,210.60 174.47,210.67 174.77,210.51 175.07,210.43 175.37,210.30 175.66,210.10 175.96,210.44 176.26,210.79 176.56,210.64 176.86,210.39 177.16,210.41 177.45,210.51 177.75,210.04 178.05,210.15 178.35,210.67 178.65,210.68 178.95,210.66 179.24,210.37 179.54,210.07 179.84,210.33 180.14,210.38 180.44,210.11 180.74,210.38 181.03,210.59 181.33,210.07 181.63,209.86 181.93,210.03 182.23,210.52 182.53,210.63 182.83,210.32 183.12,210.49 183.42,210.28 183.72,210.41 184.02,210.50 184.32,210.17 184.62,210.37 184.91,210.62 185.21,210.45 185.51,210.56 185.81,210.54 186.11,210.68 186.41,210.51 186.70,210.50 187.00,210.13 187.30,210.10 187.60,210.11" fill="none" stroke="#F8766D" stroke-width="1.15" stroke-linejoin="round"/>
<polyline points="41.40,172.00 41.60,181.00 41.80,190.00 42.00,192.53 42.20,195.07 42.40,197.60 42.67,197.92 42.93,198.23 43.20,198.55 43.47,198.87 43.73,199.18 44.00,199.56 44.29,199.24 44.57,200.30 44.86,200.62 45.14,200.17 45.43,199.15 45.71,199.42 46.00,200.36 46.30,200.16 46.60,199.99 46.89,199.35 47.19,199.36 47.49,200.03 47.79,200.50 48.09,200.08 48.38,199.70 48.68,200.29 48.98,199.72 49.28,199.90 49.57,200.16 49.87,199.89 50.17,200.16 50.47,200.73 50.77,200.35 51.06,200.50 51.36,200.87 51.66,200.34 51.96,200.68 52.26,200.16 52.55,200.11 52.85,200.56 53.15,200.02 53.45,200.84 53.74,201.24 54.04,200.90 54.34,199.74 54.64,199.88 54.94,200.64 55.23,200.18 55.53,199.70 55.83,200.62 56.13,201.25 56.43,201.16 56.72,200.03 57.02,200.08 57.32,200.68 57.62,199.92 57.91,199.92 58.21,200.29 58.51,200.41 58.81,200.76 59.11,201.23 59.40,201.05 59.70,200.94 60.00,200.67 60.30,200.17 60.60,200.63 60.90,201.56 61.19,201.64 61.49,201.26 61.79,201.00 62.09,201.28 62.39,200.97 62.69,200.55 62.99,200.46 63.28,200.21 63.58,200.50 63.88,200.53 64.18,201.15 64.48,201.56 64.78,201.76 65.07,201.20 65.37,200.26 65.67,200.94 65.97,201.45 66.27,201.40 66.57,200.83 66.87,200.64 67.16,200.53 67.46,200.39 67.76,201.46 68.06,201.55 68.36,200.80 68.66,201.13 68.96,200.26 69.25,200.01 69.55,201.01 69.85,201.16 70.15,200.63 70.45,201.20 70.75,200.62 71.04,200.06 71.34,200.04 71.64,200.15 71.94,200.83 72.24,200.63 72.54,200.89 72.84,200.57 73.13,200.17 73.43,200.92 73.73,201.35 74.03,200.73 74.33,201.10 74.63,200.43 74.93,200.50 75.22,200.54 75.52,201.39 75.82,201.29 76.12,201.47 76.42,201.25 76.72,200.67 77.01,200.56 77.31,201.43 77.61,201.72 77.91,201.58 78.21,201.17 78.51,200.08 78.81,200.14 79.10,200.51 79.40,200.21 79.70,200.95 80.00,201.47 80.30,200.91 80.60,200.87 80.90,200.60 81.20,201.32 81.50,201.75 81.80,201.48 82.10,200.81 82.40,200.34 82.70,200.28 83.00,201.36 83.30,201.67 83.60,201.27 83.90,201.14 84.20,200.68 84.50,200.97 84.80,200.70 85.10,200.82 85.40,200.15 85.70,200.28 86.00,200.15 86.30,199.88 86.60,200.46 86.90,201.29 87.20,200.57 87.50,200.25 87.80,201.07 88.10,201.30 88.40,200.99 88.70,201.56 89.00,201.43 89.30,201.25 89.60,201.68 89.90,201.63 90.20,201.08 90.50,200.57 90.80,200.86 91.10,201.30 91.40,201.81 91.70,201.57 92.00,200.46 92.30,200.95 92.60,201.57 92.90,201.17 93.20,201.14 93.50,200.82 93.80,201.19 94.10,200.49 94.40,200.26 94.70,200.22 95.00,200.33 95.30,201.19 95.60,201.38 95.90,200.43 96.20,200.24 96.50,200.53 96.80,200.66 97.10,200.86 97.40,200.47 97.70,200.89 98.00,200.81 98.30,200.34 98.60,200.62 98.90,200.52 99.20,200.14 99.50,200.55 99.80,201.30 100.10,201.87 100.40,202.01 100.70,201.54 101.00,200.78 101.30,200.49 101.60,201.13 101.90,201.39 102.20,201.47 102.50,200.89 102.80,200.91 103.10,200.35 103.40,200.46 103.70,200.96 104.00,201.37 104.30,201.00 104.60,201.38 104.90,202.07 105.20,201.96 105.50,201.07 105.80,200.62 106.10,201.21 106.40,201.60 106.70,201.47 107.00,201.33 107.30,200.61 107.60,200.38 107.90,200.17 108.20,200.16 108.50,200.90 108.80,201.40 109.10,201.24 109.40,201.63 109.70,201.01 110.00,200.99 110.30,201.64 110.60,201.52 110.90,201.07 111.20,200.47 111.50,200.12 111.80,200.17 112.10,200.35 112.40,200.70 112.70,200.81 113.00,200.95 113.30,200.84 113.60,201.49 113.90,202.06 114.20,201.87 114.50,201.27 114.80,200.92 115.10,201.62 115.40,201.58 115.70,200.84 116.00,201.67 116.30,201.80 116.60,200.72 116.90,200.60 117.20,201.31 117.50,201.00 117.80,200.52 118.10,201.27 118.40,201.83 118.70,201.44 119.00,200.33 119.30,200.21 119.60,201.02 119.90,201.63 120.20,202.01 120.50,201.80 120.80,201.75 121.10,201.79 121.40,201.05 121.70,200.41 122.00,200.33 122.30,200.94 122.60,201.70 122.90,201.21 123.20,200.71 123.50,201.75 123.80,201.68 124.10,200.82 124.40,201.24 124.70,200.62 125.00,200.28 125.30,200.90 125.60,201.32 125.89,200.88 126.19,201.10 126.49,201.44 126.79,200.79 127.08,201.04 127.38,200.66 127.68,200.45 127.98,201.35 128.27,201.46 128.57,201.07 128.87,200.92 129.17,200.94 129.46,200.99 129.76,200.13 130.06,199.92 130.36,199.93 130.65,200.18 130.95,200.80 131.25,200.93 131.55,201.15 131.85,201.19 132.14,201.47 132.44,201.12 132.74,200.06 133.04,200.08 133.33,201.09 133.63,201.66 133.93,201.32 134.23,200.42 134.52,200.58 134.82,200.21 135.12,200.49 135.42,201.29 135.71,201.32 136.01,201.40 136.31,201.30 136.61,201.30 136.90,200.57 137.20,200.79 137.50,201.51 137.80,201.09 138.10,199.96 138.39,199.91 138.69,200.37 138.99,200.68 139.29,200.55 139.58,201.20 139.88,201.22 140.18,200.50 140.48,200.02 140.77,199.89 141.07,199.99 141.37,200.42 141.67,200.80 141.96,201.16 142.26,200.74 142.56,200.45 142.86,200.35 143.15,201.07 143.45,200.49 143.75,199.78 144.05,200.05 144.35,200.56 144.64,200.43 144.94,201.08 145.24,200.89 145.54,200.92 145.83,200.77 146.13,200.64 146.43,200.44 146.73,200.92 147.02,201.12 147.32,201.01 147.62,200.81 147.92,200.97 148.21,200.76 148.51,199.76 148.81,199.62 149.11,200.60 149.40,200.05 149.70,199.69 150.00,200.73 150.30,200.99 150.60,200.37 150.90,199.86 151.19,200.60 151.49,200.20 151.79,199.44 152.09,199.36 152.39,199.74 152.69,200.87 152.99,201.31 153.28,201.08 153.58,200.30 153.88,200.42 154.18,200.48 154.48,199.93 154.78,199.29 155.07,199.20 155.37,199.45 155.67,200.03 155.97,199.97 156.27,199.38 156.57,199.40 156.87,200.07 157.16,200.58 157.46,200.64 157.76,200.86 158.06,200.45 158.36,199.63 158.66,199.56 158.96,200.10 159.25,200.76 159.55,201.31 159.85,201.52 160.15,201.61 160.45,201.27 160.75,200.59 161.04,200.35 161.34,200.11 161.64,201.05 161.94,200.69 162.24,200.10 162.54,201.06 162.84,201.38 163.13,201.26 163.43,200.19 163.73,200.08 164.03,200.20 164.33,200.93 164.63,200.44 164.93,200.90 165.22,201.10 165.52,200.90 165.82,200.65 166.12,200.72 166.42,201.17 166.72,200.93 167.01,200.63 167.31,201.09 167.61,201.08 167.91,200.84 168.21,200.86 168.51,200.30 168.81,200.62 169.10,201.32 169.40,201.51 169.70,201.59 170.00,201.65 170.30,201.11 170.60,201.54 170.89,201.59 171.19,201.27 171.49,200.46 171.79,200.23 172.09,200.80 172.39,200.37 172.68,200.60 172.98,200.00 173.28,200.07 173.58,200.76 173.88,201.23 174.18,200.93 174.47,201.64 174.77,201.89 175.07,201.40 175.37,200.73 175.67,200.96 175.97,201.61 176.26,201.27 176.56,201.09 176.86,200.85 177.16,200.64 177.46,201.52 177.76,201.38 178.05,201.38 178.35,201.47 178.65,200.92 178.95,200.73 179.25,201.29 179.55,200.56 179.84,200.65 180.14,201.13 180.44,200.98 180.74,200.90 181.04,200.72 181.34,201.51 181.63,201.65 181.93,201.25 182.23,201.75 182.53,201.81 182.83,201.23 183.13,200.36 183.42,200.30 183.72,201.61 184.02,201.91 184.32,201.38 184.62,201.21 184.92,201.30 185.21,200.84 185.51,200.56 185.81,200.57 186.11,200.69 186.41,200.72 186.71,200.11 187.00,200.34 187.30,201.15 187.60,201.63" fill="none" stroke="#00BFC4" stroke-width="1.15" stroke-linejoin="round"/>
<polyline points="208.40,160.55 208.73,161.30 209.07,161.96 209.40,162.56 209.75,163.57 210.10,164.63 210.45,165.55 210.80,166.65 211.20,167.21 211.60,167.68 212.00,168.17 212.40,168.69 212.80,169.24 213.20,169.70 213.60,170.14 214.00,170.60 214.40,171.09 214.80,171.49 215.15,171.92 215.50,172.38 215.85,172.71 216.20,173.13 216.55,173.62 216.90,174.00 217.30,174.17 217.70,174.43 218.10,174.66 218.50,174.90 218.90,175.05 219.28,174.95 219.66,174.87 220.03,174.76 220.41,174.66 220.79,174.65 221.17,174.66 221.54,174.56 221.92,174.48 222.30,174.42 222.70,174.45 223.10,174.32 223.50,174.28 223.90,174.32 224.30,174.25 224.70,174.21 225.10,174.14 225.50,174.05 225.90,173.90 226.30,173.88 226.68,173.95 227.06,174.01 227.44,173.98 227.82,173.99 228.20,173.95 228.58,174.00 228.96,174.03 229.34,174.06 229.72,174.17 230.10,174.19 230.48,174.28 230.86,174.27 231.24,174.28 231.62,174.32 232.00,174.32 232.40,174.24 232.80,174.25 233.20,174.24 233.60,174.24 234.00,174.25 234.40,174.34 234.80,174.29 235.20,174.30 235.60,174.30 236.00,174.37 236.40,174.33 236.80,174.26 237.20,174.37 237.60,174.43 238.00,174.40 238.40,174.32 238.80,174.22 239.20,174.25 239.60,174.36 240.00,174.32 240.40,174.27 240.80,174.36 241.20,174.35 241.60,174.31 242.00,174.28 242.40,174.26 242.80,174.22 243.20,174.22 243.60,174.34 244.00,174.32 244.40,174.30 244.80,174.29 245.20,174.31 245.60,174.22 246.00,174.22 246.40,174.19 246.80,174.23 247.20,174.37 247.60,174.35 248.00,174.30 248.40,174.32 248.80,174.36 249.20,174.30 249.60,174.32 250.00,174.33 250.40,174.29 250.80,174.31 251.20,174.37 251.60,174.37 252.00,174.29 252.40,174.33 252.80,174.25 253.20,174.33 253.60,174.35 254.00,174.25 254.40,174.28 254.80,174.32 255.20,174.24 255.60,174.31 256.00,174.36 256.40,174.33 256.80,174.33 257.20,174.25 257.60,174.22 258.00,174.24 258.40,174.22 258.80,174.28 259.20,174.38 259.60,174.33 260.00,174.26 260.40,174.28 260.80,174.37 261.20,174.35 261.60,174.39 262.00,174.34 262.40,174.34 262.80,174.40 263.20,174.39 263.60,174.34 264.00,174.33 264.40,174.38 264.80,174.36 265.20,174.37 265.60,174.27 266.00,174.29 266.40,174.36 266.80,174.40 267.20,174.34 267.60,174.39 268.00,174.40 268.40,174.40 268.80,174.41 269.20,174.43 269.60,174.34 270.00,174.30 270.40,174.27 270.80,174.24 271.20,174.30 271.60,174.44 272.00,174.42 272.40,174.32 272.80,174.36 273.20,174.37 273.60,174.39 274.00,174.39 274.40,174.37 274.80,174.44 275.20,174.41 275.60,174.41 276.00,174.39 276.40,174.31 276.80,174.28 277.20,174.36 277.60,174.45 278.00,174.48 278.40,174.43 278.80,174.36 279.20,174.47 279.60,174.50 280.00,174.49 280.40,174.45 280.80,174.45 281.20,174.32 281.60,174.27 282.00,174.28 282.40,174.32 282.80,174.34 283.20,174.35 283.60,174.38 284.00,174.35 284.40,174.39 284.80,174.38 285.20,174.41 285.60,174.34 286.00,174.39 286.40,174.50 286.80,174.49 287.20,174.50 287.60,174.49 288.00,174.45 288.40,174.40 288.80,174.41 289.20,174.39 289.60,174.50 290.00,174.57 290.40,174.52 290.80,174.38 291.20,174.39 291.60,174.39 292.00,174.39 292.40,174.48 292.80,174.51 293.20,174.47 293.60,174.54 294.00,174.52 294.40,174.44 294.80,174.52 295.20,174.54 295.60,174.45 296.00,174.48 296.40,174.52 296.80,174.49 297.20,174.43 297.60,174.50 298.00,174.54 298.40,174.58 298.80,174.56 299.20,174.50 299.60,174.55 300.00,174.60 300.40,174.57 300.80,174.43 301.20,174.40 301.60,174.48 301.99,174.46 302.39,174.51 302.79,174.57 303.19,174.48 303.59,174.44 303.99,174.48 304.39,174.49 304.79,174.42 305.18,174.42 305.58,174.42 305.98,174.51 306.38,174.54 306.78,174.47 307.18,174.45 307.58,174.46 307.98,174.41 308.38,174.40 308.77,174.43 309.17,174.43 309.57,174.41 309.97,174.50 310.37,174.49 310.77,174.41 311.17,174.39 311.57,174.47 311.96,174.39 312.36,174.35 312.76,174.35 313.16,174.39 313.56,174.49 313.96,174.43 314.36,174.43 314.76,174.51 315.16,174.48 315.55,174.40 315.95,174.45 316.35,174.51 316.75,174.46 317.15,174.46 317.55,174.40 317.95,174.48 318.35,174.53 318.74,174.53 319.14,174.49 319.54,174.40 319.94,174.36 320.34,174.43 320.74,174.47 321.14,174.38 321.54,174.38 321.94,174.44 322.33,174.50 322.73,174.50 323.13,174.37 323.53,174.37 323.93,174.47 324.33,174.49 324.73,174.51 325.13,174.55 325.52,174.55 325.92,174.53 326.32,174.49 326.72,174.43 327.12,174.42 327.52,174.39 327.92,174.46 328.32,174.49 328.72,174.47 329.11,174.41 329.51,174.38 329.91,174.36 330.31,174.34 330.71,174.45 331.11,174.43 331.51,174.39 331.91,174.42 332.30,174.44 332.70,174.42 333.10,174.48 333.50,174.49 333.90,174.40" fill="none" stroke="#F8766D" stroke-width="1.15" stroke-linejoin="round"/>
<polyline points="208.10,172.00 208.15,149.10 208.40,161.90 208.65,163.07 208.90,164.25 209.15,165.43 209.40,166.60 209.68,167.00 209.96,167.40 210.24,167.80 210.52,168.20 210.80,168.60 211.06,168.74 211.32,168.88 211.58,169.02 211.84,169.16 212.10,169.30 212.40,169.50 212.70,169.70 213.00,169.90 213.30,170.10 213.60,170.30 213.90,170.50 214.20,170.70 214.46,171.10 214.72,171.50 214.98,171.90 215.24,172.30 215.50,172.70 215.78,173.24 216.06,173.78 216.34,174.32 216.62,174.86 216.90,175.40 217.16,175.80 217.42,176.20 217.68,176.60 217.94,177.00 218.20,177.40 218.49,177.50 218.77,177.60 219.06,177.99 219.34,178.03 219.63,177.76 219.91,177.86 220.20,178.12 220.46,178.11 220.72,177.86 220.99,177.74 221.25,177.61 221.51,177.60 221.78,177.58 222.04,177.56 222.30,177.48 222.59,177.18 222.87,177.06 223.16,176.79 223.44,176.81 223.73,176.62 224.01,176.29 224.30,176.12 224.60,176.09 224.89,176.23 225.19,176.31 225.48,176.28 225.78,176.19 226.08,176.38 226.37,176.27 226.67,176.29 226.97,176.56 227.26,176.52 227.56,176.47 227.85,176.35 228.15,176.14 228.45,176.05 228.74,176.08 229.04,176.14 229.33,176.12 229.63,176.34 229.93,176.62 230.22,176.50 230.52,176.23 230.82,176.23 231.11,176.51 231.41,176.64 231.70,176.41 232.00,176.18 232.30,176.17 232.60,176.10 232.89,176.28 233.19,176.45 233.49,176.20 233.79,176.25 234.09,176.45 234.38,176.60 234.68,176.45 234.98,176.33 235.28,176.35 235.57,176.16 235.87,176.12 236.17,176.42 236.47,176.43 236.77,176.49 237.06,176.14 237.36,176.00 237.66,176.28 237.96,176.53 238.26,176.65 238.55,176.41 238.85,176.14 239.15,176.26 239.45,176.22 239.74,176.19 240.04,176.48 240.34,176.56 240.64,176.56 240.94,176.48 241.23,176.49 241.53,176.43 241.83,176.25 242.13,176.39 242.43,176.53 242.72,176.28 243.02,176.05 243.32,175.95 243.62,176.02 243.91,176.15 244.21,176.10 244.51,176.39 244.81,176.58 245.11,176.67 245.40,176.54 245.70,176.40 246.00,176.53 246.30,176.46 246.60,176.08 246.89,175.96 247.19,176.18 247.49,176.52 247.79,176.43 248.09,176.48 248.38,176.37 248.68,176.39 248.98,176.38 249.28,176.52 249.57,176.51 249.87,176.66 250.17,176.70 250.47,176.65 250.77,176.32 251.06,176.24 251.36,176.45 251.66,176.49 251.96,176.31 252.26,176.13 252.55,176.26 252.85,176.56 253.15,176.33 253.45,176.25 253.74,176.29 254.04,176.11 254.34,176.17 254.64,176.47 254.94,176.38 255.23,176.30 255.53,176.51 255.83,176.37 256.13,176.48 256.43,176.45 256.72,176.13 257.02,176.14 257.32,176.40 257.62,176.19 257.91,176.23 258.21,176.55 258.51,176.56 258.81,176.69 259.11,176.72 259.40,176.52 259.70,176.22 260.00,176.29 260.30,176.21 260.60,176.17 260.90,176.36 261.19,176.64 261.49,176.70 261.79,176.49 262.09,176.48 262.39,176.63 262.69,176.58 262.99,176.60 263.28,176.55 263.58,176.70 263.88,176.60 264.18,176.36 264.48,176.30 264.78,176.50 265.07,176.17 265.37,176.01 265.67,176.13 265.97,176.55 266.27,176.52 266.57,176.14 266.87,176.04 267.16,176.19 267.46,176.44 267.76,176.43 268.06,176.64 268.36,176.75 268.66,176.58 268.96,176.50 269.25,176.58 269.55,176.41 269.85,176.42 270.15,176.17 270.45,176.24 270.75,176.51 271.04,176.58 271.34,176.43 271.64,176.44 271.94,176.60 272.24,176.65 272.54,176.67 272.84,176.62 273.13,176.24 273.43,176.29 273.73,176.60 274.03,176.75 274.33,176.68 274.63,176.53 274.93,176.61 275.22,176.47 275.52,176.30 275.82,176.54 276.12,176.37 276.42,176.11 276.72,176.15 277.01,176.16 277.31,176.24 277.61,176.60 277.91,176.50 278.21,176.48 278.51,176.59 278.81,176.71 279.10,176.52 279.40,176.36 279.70,176.35 280.00,176.38 280.30,176.62 280.60,176.64 280.90,176.26 281.19,176.21 281.49,176.59 281.79,176.68 282.09,176.69 282.39,176.39 282.69,176.34 282.99,176.54 283.28,176.34 283.58,176.59 283.88,176.73 284.18,176.69 284.48,176.45 284.78,176.22 285.07,176.15 285.37,176.45 285.67,176.70 285.97,176.48 286.27,176.39 286.57,176.32 286.87,176.57 287.16,176.65 287.46,176.43 287.76,176.41 288.06,176.32 288.36,176.24 288.66,176.18 288.96,176.40 289.25,176.69 289.55,176.71 289.85,176.61 290.15,176.45 290.45,176.49 290.75,176.47 291.04,176.35 291.34,176.54 291.64,176.39 291.94,176.29 292.24,176.21 292.54,176.42 292.84,176.59 293.13,176.48 293.43,176.50 293.73,176.63 294.03,176.80 294.33,176.75 294.63,176.51 294.93,176.45 295.22,176.64 295.52,176.62 295.82,176.61 296.12,176.32 296.42,176.33 296.72,176.56 297.01,176.55 297.31,176.40 297.61,176.37 297.91,176.44 298.21,176.54 298.51,176.26 298.81,176.29 299.10,176.48 299.40,176.38 299.70,176.48 300.00,176.53 300.30,176.70 300.60,176.67 300.90,176.38 301.20,176.22 301.50,176.19 301.80,176.37 302.10,176.49 302.40,176.65 302.70,176.71 303.00,176.71 303.30,176.66 303.60,176.58 303.90,176.42 304.20,176.36 304.50,176.62 304.80,176.62 305.10,176.31 305.40,176.30 305.70,176.42 306.00,176.36 306.30,176.51 306.60,176.66 306.90,176.48 307.20,176.53 307.50,176.52 307.80,176.39 308.10,176.35 308.40,176.31 308.70,176.12 309.00,176.23 309.30,176.50 309.60,176.30 309.90,176.29 310.20,176.47 310.50,176.67 310.80,176.64 311.10,176.53 311.40,176.54 311.70,176.44 312.00,176.51 312.30,176.24 312.60,176.21 312.90,176.27 313.20,176.30 313.50,176.31 313.80,176.57 314.10,176.45 314.40,176.39 314.70,176.25 315.00,176.36 315.30,176.33 315.60,176.20 315.90,176.41 316.20,176.61 316.50,176.69 316.80,176.67 317.10,176.65 317.40,176.60 317.70,176.56 318.00,176.43 318.30,176.39 318.60,176.39 318.90,176.48 319.20,176.43 319.50,176.52 319.80,176.67 320.10,176.58 320.40,176.47 320.70,176.46 321.00,176.59 321.30,176.68 321.60,176.67 321.90,176.41 322.20,176.40 322.50,176.53 322.80,176.61 323.10,176.43 323.40,176.30 323.70,176.43 324.00,176.28 324.30,176.45 324.60,176.76 324.90,176.79 325.20,176.66 325.50,176.26 325.80,176.04 326.10,176.16 326.40,176.57 326.70,176.80 327.00,176.75 327.30,176.52 327.60,176.60 327.90,176.55 328.20,176.24 328.50,176.41 328.80,176.55 329.10,176.40 329.40,176.30 329.70,176.09 330.00,176.09 330.30,176.16 330.60,176.42 330.90,176.66 331.20,176.56 331.50,176.42 331.80,176.24 332.10,176.15 332.40,176.31 332.70,176.35 333.00,176.22 333.30,176.21 333.60,176.58 333.90,176.55" fill="none" stroke="#00BFC4" stroke-width="1.15" stroke-linejoin="round"/>
<polyline points="374.40,162.45 374.70,165.64 375.00,168.92 375.38,169.31 375.75,169.66 376.12,170.02 376.50,170.36 376.88,170.66 377.25,170.86 377.62,171.22 378.00,171.57 378.38,171.87 378.75,172.25 379.12,172.78 379.50,173.22 379.88,173.54 380.25,173.85 380.62,174.24 381.00,174.59 381.37,174.85 381.74,175.05 382.11,175.35 382.49,175.65 382.86,175.88 383.23,176.09 383.60,176.31 383.97,176.16 384.34,176.03 384.71,175.92 385.08,175.70 385.45,175.61 385.82,175.55 386.19,175.45 386.56,175.35 386.93,175.15 387.30,174.98 387.70,174.98 388.10,175.03 388.50,174.88 388.90,174.80 389.30,174.79 389.70,174.80 390.10,174.74 390.50,174.62 390.90,174.67 391.30,174.61 391.70,174.45 392.10,174.37 392.50,174.38 392.90,174.33 393.30,174.21 393.70,174.15 394.10,174.19 394.50,174.17 394.88,174.14 395.27,174.07 395.65,174.08 396.04,173.99 396.42,173.94 396.81,174.00 397.19,174.10 397.57,174.09 397.96,174.08 398.34,174.08 398.73,174.06 399.11,174.03 399.49,174.03 399.88,173.94 400.26,173.94 400.65,173.91 401.03,173.94 401.42,174.06 401.80,174.06 402.18,174.04 402.57,174.00 402.95,173.97 403.34,173.98 403.72,173.94 404.11,173.89 404.49,173.87 404.87,173.84 405.26,173.80 405.64,173.80 406.03,173.77 406.41,173.77 406.79,173.75 407.18,173.76 407.56,173.71 407.95,173.61 408.33,173.69 408.72,173.70 409.10,173.61 409.49,173.66 409.88,173.70 410.27,173.63 410.66,173.59 411.05,173.69 411.44,173.73 411.83,173.64 412.21,173.64 412.60,173.73 412.99,173.70 413.38,173.61 413.77,173.63 414.16,173.68 414.55,173.75 414.94,173.78 415.33,173.77 415.72,173.75 416.11,173.76 416.50,173.80 416.89,173.83 417.27,173.85 417.66,173.91 418.05,173.96 418.44,173.93 418.83,173.91 419.22,173.94 419.61,173.88 420.00,173.96 420.40,173.92 420.80,173.90 421.20,173.94 421.60,173.92 422.00,173.91 422.40,173.84 422.80,173.84 423.20,173.83 423.60,173.79 424.00,173.81 424.40,173.72 424.80,173.68 425.20,173.73 425.60,173.80 426.00,173.74 426.40,173.64 426.80,173.65 427.20,173.69 427.60,173.62 428.00,173.62 428.40,173.64 428.80,173.68 429.20,173.61 429.60,173.61 430.00,173.66 430.40,173.70 430.80,173.61 431.20,173.54 431.60,173.57 432.00,173.58 432.40,173.57 432.80,173.51 433.20,173.54 433.60,173.58 434.00,173.57 434.40,173.61 434.80,173.55 435.20,173.57 435.60,173.50 436.00,173.48 436.40,173.52 436.80,173.53 437.20,173.57 437.60,173.54 438.00,173.42 438.40,173.40 438.80,173.46 439.20,173.46 439.60,173.38 440.00,173.44 440.40,173.39 440.80,173.34 441.20,173.40 441.60,173.48 442.00,173.42 442.40,173.41 442.80,173.52 443.20,173.58 443.60,173.52 444.00,173.52 444.40,173.56 444.80,173.66 445.20,173.67 445.60,173.64 446.00,173.68 446.40,173.60 446.80,173.61 447.20,173.67 447.60,173.73 448.00,173.73 448.40,173.72 448.80,173.81 449.20,173.86 449.60,173.83 450.00,173.78 450.40,173.80 450.80,173.74 451.20,173.69 451.60,173.73 452.00,173.88 452.40,173.93 452.80,173.85 453.20,173.88 453.60,173.86 454.00,173.90 454.40,173.86 454.80,173.92 455.20,174.01 455.60,174.06 456.00,174.03 456.40,174.01 456.80,173.96 457.20,173.96 457.60,174.03 458.00,173.99 458.40,174.05 458.80,174.01 459.20,173.96 459.60,174.00 460.00,174.07 460.40,174.05 460.80,174.02 461.20,174.08 461.60,174.18 462.00,174.19 462.40,174.14 462.80,174.15 463.20,174.23 463.60,174.20 464.00,174.21 464.40,174.24 464.80,174.20 465.20,174.20 465.60,174.20 466.00,174.26 466.40,174.26 466.80,174.23 467.20,174.25 467.60,174.18 468.00,174.19 468.40,174.23 468.80,174.20 469.20,174.26 469.60,174.21 470.00,174.29 470.40,174.27 470.80,174.31 471.20,174.27 471.60,174.32 472.00,174.30 472.40,174.28 472.80,174.33 473.20,174.41 473.60,174.39 474.00,174.28 474.40,174.28 474.80,174.36 475.20,174.26 475.60,174.25 476.00,174.32 476.40,174.27 476.80,174.25 477.20,174.33 477.60,174.29 478.00,174.31 478.40,174.43 478.80,174.48 479.20,174.41 479.60,174.36 480.00,174.32 480.40,174.36 480.80,174.35 481.20,174.37 481.60,174.33 482.00,174.37 482.40,174.46 482.80,174.42 483.20,174.47 483.60,174.44 484.00,174.36 484.40,174.39 484.80,174.42 485.20,174.41 485.60,174.36 486.00,174.39 486.40,174.47 486.80,174.46 487.20,174.42 487.60,174.42 488.00,174.43 488.40,174.44 488.80,174.48 489.20,174.49 489.60,174.39 490.00,174.42 490.40,174.36 490.80,174.38 491.20,174.52 491.60,174.51 492.00,174.49 492.40,174.52 492.80,174.51 493.20,174.56 493.60,174.59 494.00,174.55 494.40,174.41 494.80,174.41 495.20,174.43 495.60,174.50 496.00,174.51 496.40,174.44 496.80,174.41 497.20,174.44 497.60,174.43 498.00,174.51 498.40,174.48 498.80,174.44 499.20,174.50 499.60,174.47 500.00,174.50 500.40,174.53 500.80,174.48 501.20,174.45 501.60,174.52 502.00,174.58 502.40,174.57 502.80,174.48 503.20,174.50 503.60,174.53 504.00,174.43 504.40,174.44 504.80,174.56 505.20,174.55 505.60,174.60 506.00,174.62 506.40,174.62 506.80,174.61 507.20,174.51 507.60,174.50 508.00,174.47 508.40,174.45 508.80,174.47 509.20,174.48 509.60,174.48 510.00,174.56 510.40,174.62 510.80,174.56 511.20,174.47 511.60,174.49 512.00,174.57 512.40,174.52 512.80,174.50 513.20,174.63 513.60,174.68 514.00,174.59 514.40,174.48 514.80,174.51 515.20,174.61 515.60,174.61 516.00,174.55 516.40,174.62 516.80,174.58 517.20,174.66 517.60,174.64 518.00,174.61 518.40,174.66 518.80,174.64 519.20,174.52 519.60,174.54 520.00,174.66" fill="none" stroke="#F8766D" stroke-width="1.15" stroke-linejoin="round"/>
<polyline points="374.00,171.00 374.25,169.97 374.50,168.95 374.75,167.93 375.00,166.90 375.25,167.40 375.50,167.90 375.75,168.40 376.00,168.90 376.29,169.29 376.57,169.67 376.86,170.06 377.14,170.44 377.43,170.83 377.71,171.21 378.00,171.60 378.29,171.94 378.57,172.29 378.86,172.63 379.14,172.97 379.43,173.31 379.71,173.66 380.00,174.00 380.27,174.36 380.55,174.72 380.82,175.09 381.10,175.45 381.38,175.81 381.65,176.18 381.93,176.54 382.20,176.90 382.48,177.02 382.75,177.13 383.03,177.25 383.31,177.36 383.58,177.48 383.86,177.59 384.14,177.51 384.42,177.75 384.69,178.05 384.97,178.28 385.25,178.33 385.52,178.20 385.80,178.20 386.10,178.27 386.40,178.28 386.70,178.26 387.00,178.18 387.30,178.15 387.60,177.91 387.90,177.92 388.20,178.19 388.50,178.30 388.80,178.21 389.10,178.14 389.40,178.03 389.70,177.85 390.00,177.86 390.30,177.76 390.60,177.60 390.90,177.54 391.19,177.63 391.48,177.43 391.77,177.64 392.06,177.68 392.35,177.50 392.64,177.51 392.93,177.34 393.22,177.31 393.51,177.26 393.80,177.08 394.09,177.05 394.38,177.04 394.67,177.12 394.96,177.22 395.25,177.19 395.54,177.08 395.83,176.99 396.12,176.94 396.41,176.80 396.70,176.68 396.97,176.69 397.25,176.69 397.52,176.47 397.80,176.51 398.07,176.33 398.35,176.19 398.62,176.21 398.90,176.06 399.19,176.03 399.47,176.31 399.76,176.34 400.05,176.10 400.33,176.21 400.62,176.17 400.91,176.26 401.20,176.44 401.48,176.30 401.77,176.02 402.06,176.02 402.34,176.29 402.63,176.50 402.92,176.31 403.20,176.27 403.49,176.28 403.78,176.49 404.07,176.40 404.35,176.32 404.64,176.38 404.93,176.59 405.21,176.44 405.50,176.32 405.80,176.49 406.10,176.30 406.40,176.14 406.70,176.16 407.00,176.34 407.30,176.44 407.60,176.17 407.90,176.13 408.20,176.25 408.50,176.40 408.80,176.32 409.10,176.00 409.40,175.87 409.70,175.80 410.00,175.73 410.30,175.99 410.60,176.01 410.90,175.79 411.20,175.84 411.50,175.81 411.80,175.69 412.10,175.82 412.40,175.90 412.70,175.79 412.99,175.48 413.28,175.37 413.58,175.63 413.87,175.73 414.16,175.50 414.45,175.41 414.74,175.66 415.04,175.68 415.33,175.54 415.62,175.58 415.91,175.34 416.20,175.09 416.50,175.12 416.79,175.27 417.08,175.19 417.37,175.05 417.66,175.18 417.96,175.39 418.25,175.19 418.54,175.21 418.83,175.42 419.12,175.18 419.42,175.13 419.71,175.13 420.00,175.25 420.29,175.20 420.59,175.41 420.88,175.36 421.18,175.59 421.47,175.58 421.76,175.50 422.06,175.54 422.35,175.54 422.65,175.63 422.94,175.89 423.24,175.78 423.53,175.83 423.82,175.93 424.12,175.67 424.41,175.73 424.71,176.15 425.00,176.14 425.30,176.04 425.60,176.21 425.90,176.07 426.19,175.93 426.49,175.86 426.79,175.95 427.09,175.94 427.39,176.01 427.69,175.93 427.99,176.02 428.28,175.96 428.58,175.85 428.88,175.72 429.18,175.73 429.48,175.94 429.78,176.19 430.07,176.04 430.37,175.83 430.67,175.92 430.97,175.86 431.27,175.75 431.57,175.80 431.87,175.87 432.16,176.12 432.46,176.10 432.76,175.96 433.06,176.07 433.36,176.07 433.66,176.24 433.96,176.17 434.25,175.96 434.55,175.95 434.85,175.97 435.15,175.95 435.45,175.76 435.75,175.75 436.04,175.85 436.34,175.90 436.64,175.88 436.94,176.06 437.24,175.93 437.54,176.02 437.84,175.88 438.13,175.89 438.43,175.81 438.73,175.86 439.03,175.80 439.33,175.91 439.63,175.85 439.93,175.94 440.22,175.89 440.52,176.12 440.82,176.00 441.12,175.77 441.42,175.67 441.72,175.87 442.01,176.13 442.31,176.04 442.61,176.06 442.91,175.77 443.21,175.84 443.51,176.10 443.81,175.89 444.10,175.78 444.40,176.04 444.70,176.07 445.00,175.88 445.30,176.03 445.60,176.16 445.90,175.89 446.19,175.81 446.49,176.07 446.79,176.02 447.09,176.02 447.39,176.01 447.69,175.74 447.99,175.78 448.28,176.06 448.58,176.12 448.88,175.93 449.18,175.99 449.48,176.18 449.78,176.16 450.07,176.23 450.37,176.16 450.67,176.03 450.97,175.90 451.27,175.88 451.57,175.89 451.87,175.92 452.16,175.92 452.46,175.69 452.76,175.71 453.06,175.93 453.36,175.93 453.66,175.75 453.96,175.61 454.25,175.75 454.55,176.08 454.85,175.92 455.15,175.69 455.45,175.72 455.75,175.94 456.04,175.79 456.34,175.83 456.64,175.90 456.94,176.01 457.24,176.16 457.54,175.93 457.84,175.75 458.13,175.99 458.43,176.12 458.73,176.04 459.03,175.80 459.33,176.07 459.63,176.11 459.93,176.06 460.22,176.04 460.52,175.97 460.82,175.85 461.12,175.71 461.42,175.88 461.72,176.03 462.01,175.98 462.31,175.83 462.61,175.91 462.91,176.07 463.21,176.09 463.51,176.12 463.81,175.97 464.10,175.87 464.40,175.81 464.70,175.84 465.00,175.71 465.30,175.90 465.60,176.09 465.90,176.09 466.20,175.98 466.50,175.86 466.79,175.76 467.09,175.76 467.39,175.76 467.69,176.10 467.99,176.21 468.29,175.92 468.59,175.80 468.89,175.98 469.19,176.05 469.49,176.26 469.79,176.13 470.09,175.85 470.38,175.99 470.68,176.07 470.98,176.22 471.28,176.09 471.58,175.85 471.88,176.05 472.18,176.28 472.48,176.14 472.78,175.92 473.08,175.89 473.38,176.11 473.68,175.98 473.97,176.17 474.27,176.41 474.57,176.29 474.87,175.96 475.17,176.15 475.47,176.37 475.77,176.20 476.07,176.31 476.37,176.41 476.67,176.18 476.97,176.12 477.26,176.40 477.56,176.48 477.86,176.31 478.16,176.37 478.46,176.34 478.76,176.09 479.06,176.22 479.36,176.23 479.66,176.34 479.96,176.41 480.26,176.14 480.56,176.05 480.85,176.34 481.15,176.50 481.45,176.34 481.75,176.56 482.05,176.66 482.35,176.59 482.65,176.47 482.95,176.43 483.25,176.49 483.55,176.47 483.85,176.28 484.15,176.39 484.44,176.29 484.74,176.41 485.04,176.44 485.34,176.46 485.64,176.29 485.94,176.25 486.24,176.44 486.54,176.46 486.84,176.50 487.14,176.39 487.44,176.50 487.74,176.59 488.03,176.37 488.33,176.53 488.63,176.76 488.93,176.71 489.23,176.38 489.53,176.45 489.83,176.63 490.13,176.63 490.43,176.64 490.73,176.39 491.03,176.33 491.32,176.36 491.62,176.57 491.92,176.37 492.22,176.41 492.52,176.52 492.82,176.36 493.12,176.47 493.42,176.55 493.72,176.48 494.02,176.76 494.32,176.78 494.62,176.63 494.91,176.78 495.21,176.75 495.51,176.82 495.81,176.86 496.11,176.54 496.41,176.68 496.71,176.93 497.01,176.92 497.31,176.69 497.61,176.68 497.91,176.65 498.21,176.74 498.50,176.88 498.80,176.94 499.10,176.84 499.40,176.71 499.70,176.70 500.00,176.80 500.30,176.56 500.60,176.49 500.90,176.55 501.19,176.61 501.49,176.97 501.79,177.07 502.09,176.88 502.39,176.80 502.69,176.72 502.99,176.58 503.28,176.59 503.58,176.61 503.88,176.58 504.18,176.84 504.48,176.72 504.78,176.64 505.07,176.55 505.37,176.65 505.67,176.84 505.97,176.69 506.27,176.81 506.57,176.92 506.87,176.83 507.16,176.83 507.46,176.70 507.76,176.72 508.06,176.62 508.36,176.71 508.66,176.51 508.96,176.62 509.25,176.92 509.55,176.91 509.85,176.74 510.15,176.60 510.45,176.62 510.75,176.66 511.04,176.60 511.34,176.71 511.64,176.76 511.94,176.56 512.24,176.69 512.54,176.80 512.84,176.66 513.13,176.65 513.43,176.39 513.73,176.49 514.03,176.75 514.33,176.78 514.63,176.84 514.93,176.63 515.22,176.37 515.52,176.38 515.82,176.65 516.12,176.48 516.42,176.68 516.72,176.74 517.01,176.84 517.31,176.82 517.61,176.52 517.91,176.42 518.21,176.62 518.51,176.45 518.81,176.34 519.10,176.65 519.40,176.64 519.70,176.57 520.00,176.36" fill="none" stroke="#00BFC4" stroke-width="1.15" stroke-linejoin="round"/>
<rect x="38.50" y="23.00" width="157.90" height="96.40" fill="none" stroke="#333333" stroke-opacity="0.55" stroke-width="1.0"/>
<rect x="201.50" y="23.00" width="158.20" height="96.40" fill="none" stroke="#333333" stroke-opacity="0.55" stroke-width="1.0"/>
<rect x="364.90" y="23.00" width="158.00" height="96.40" fill="none" stroke="#333333" stroke-opacity="0.55" stroke-width="1.0"/>
<rect x="34.40" y="138.30" width="160.20" height="109.80" fill="none" stroke="#333333" stroke-opacity="0.55" stroke-width="1.0"/>
<rect x="200.50" y="138.30" width="160.40" height="109.80" fill="none" stroke="#333333" stroke-opacity="0.55" stroke-width="1.0"/>
<rect x="366.60" y="138.30" width="160.60" height="109.80" fill="none" stroke="#333333" stroke-opacity="0.55" stroke-width="1.0"/>
<rect x="38.50" y="7.20" width="157.90" height="15.80" fill="#D9D9D9" stroke="#333333" stroke-opacity="0.55" stroke-width="1.0"/>
<text transform="translate(117.45,18.8) scale(1,1.08)" class="st">LLA</text>
<rect x="201.50" y="7.20" width="158.20" height="15.80" fill="#D9D9D9" stroke="#333333" stroke-opacity="0.55" stroke-width="1.0"/>
<text transform="translate(280.60,18.8) scale(1,1.08)" class="st">Adam</text>
<rect x="364.90" y="7.20" width="158.00" height="15.80" fill="#D9D9D9" stroke="#333333" stroke-opacity="0.55" stroke-width="1.0"/>
<text transform="translate(443.90,18.8) scale(1,1.08)" class="st">Adamax</text>
<rect x="522.90" y="23.00" width="16.50" height="96.40" fill="#D9D9D9" stroke="#333333" stroke-opacity="0.55" stroke-width="1.0"/>
<text transform="translate(528.20,71.20) rotate(90) scale(1,1.08)" class="st">AF</text>
<rect x="527.20" y="138.30" width="16.30" height="109.80" fill="#D9D9D9" stroke="#333333" stroke-opacity="0.55" stroke-width="1.0"/>
<text transform="translate(532.50,193.20) rotate(90) scale(1,1.08)" class="st">CHP</text>
<line x1="35.70" y1="115.50" x2="38.50" y2="115.50" stroke="#333333" stroke-width="1.1"/>
<text transform="translate(33.50,118.60) scale(1,1.12)" class="yt">0.0</text>
<line x1="35.70" y1="97.90" x2="38.50" y2="97.90" stroke="#333333" stroke-width="1.1"/>
<text transform="translate(33.50,101.00) scale(1,1.12)" class="yt">0.1</text>
<line x1="35.70" y1="80.30" x2="38.50" y2="80.30" stroke="#333333" stroke-width="1.1"/>
<text transform="translate(33.50,83.40) scale(1,1.12)" class="yt">0.2</text>
<line x1="35.70" y1="62.70" x2="38.50" y2="62.70" stroke="#333333" stroke-width="1.1"/>
<text transform="translate(33.50,65.80) scale(1,1.12)" class="yt">0.3</text>
<line x1="35.70" y1="45.10" x2="38.50" y2="45.10" stroke="#333333" stroke-width="1.1"/>
<text transform="translate(33.50,48.20) scale(1,1.12)" class="yt">0.4</text>
<line x1="35.70" y1="27.50" x2="38.50" y2="27.50" stroke="#333333" stroke-width="1.1"/>
<text transform="translate(33.50,30.60) scale(1,1.12)" class="yt">0.5</text>
<line x1="31.60" y1="243.80" x2="34.40" y2="243.80" stroke="#333333" stroke-width="1.1"/>
<text transform="translate(29.40,246.90) scale(1,1.12)" class="yt">0.0</text>
<line x1="31.60" y1="223.70" x2="34.40" y2="223.70" stroke="#333333" stroke-width="1.1"/>
<text transform="translate(29.40,226.80) scale(1,1.12)" class="yt">0.1</text>
<line x1="31.60" y1="203.60" x2="34.40" y2="203.60" stroke="#333333" stroke-width="1.1"/>
<text transform="translate(29.40,206.70) scale(1,1.12)" class="yt">0.2</text>
<line x1="31.60" y1="183.50" x2="34.40" y2="183.50" stroke="#333333" stroke-width="1.1"/>
<text transform="translate(29.40,186.60) scale(1,1.12)" class="yt">0.3</text>
<line x1="31.60" y1="163.40" x2="34.40" y2="163.40" stroke="#333333" stroke-width="1.1"/>
<text transform="translate(29.40,166.50) scale(1,1.12)" class="yt">0.4</text>
<line x1="31.60" y1="143.30" x2="34.40" y2="143.30" stroke="#333333" stroke-width="1.1"/>
<text transform="translate(29.40,146.40) scale(1,1.12)" class="yt">0.5</text>
<line x1="45.68" y1="119.40" x2="45.68" y2="122.50" stroke="#333333" stroke-width="1.1"/>
<text transform="translate(45.68,130.60) scale(1,1.14)" class="xt">0</text>
<line x1="117.48" y1="119.40" x2="117.48" y2="122.50" stroke="#333333" stroke-width="1.1"/>
<text transform="translate(117.48,130.60) scale(1,1.14)" class="xt">500</text>
<line x1="189.28" y1="119.40" x2="189.28" y2="122.50" stroke="#333333" stroke-width="1.1"/>
<text transform="translate(189.28,130.60) scale(1,1.14)" class="xt">1000</text>
<line x1="208.68" y1="119.40" x2="208.68" y2="122.50" stroke="#333333" stroke-width="1.1"/>
<text transform="translate(208.68,130.60) scale(1,1.14)" class="xt">0</text>
<line x1="280.48" y1="119.40" x2="280.48" y2="122.50" stroke="#333333" stroke-width="1.1"/>
<text transform="translate(280.48,130.60) scale(1,1.14)" class="xt">500</text>
<line x1="352.28" y1="119.40" x2="352.28" y2="122.50" stroke="#333333" stroke-width="1.1"/>
<text transform="translate(352.28,130.60) scale(1,1.14)" class="xt">1000</text>
<line x1="372.08" y1="119.40" x2="372.08" y2="122.50" stroke="#333333" stroke-width="1.1"/>
<text transform="translate(372.08,130.60) scale(1,1.14)" class="xt">0</text>
<line x1="443.88" y1="119.40" x2="443.88" y2="122.50" stroke="#333333" stroke-width="1.1"/>
<text transform="translate(443.88,130.60) scale(1,1.14)" class="xt">500</text>
<line x1="515.68" y1="119.40" x2="515.68" y2="122.50" stroke="#333333" stroke-width="1.1"/>
<text transform="translate(515.68,130.60) scale(1,1.14)" class="xt">1000</text>
<line x1="41.65" y1="248.10" x2="41.65" y2="251.30" stroke="#333333" stroke-width="1.1"/>
<text transform="translate(41.65,259.60) scale(1,1.24)" class="xt">0</text>
<line x1="114.55" y1="248.10" x2="114.55" y2="251.30" stroke="#333333" stroke-width="1.1"/>
<text transform="translate(114.55,259.60) scale(1,1.24)" class="xt">250</text>
<line x1="187.45" y1="248.10" x2="187.45" y2="251.30" stroke="#333333" stroke-width="1.1"/>
<text transform="translate(187.45,259.60) scale(1,1.24)" class="xt">500</text>
<line x1="207.75" y1="248.10" x2="207.75" y2="251.30" stroke="#333333" stroke-width="1.1"/>
<text transform="translate(207.75,259.60) scale(1,1.24)" class="xt">0</text>
<line x1="280.65" y1="248.10" x2="280.65" y2="251.30" stroke="#333333" stroke-width="1.1"/>
<text transform="translate(280.65,259.60) scale(1,1.24)" class="xt">250</text>
<line x1="353.55" y1="248.10" x2="353.55" y2="251.30" stroke="#333333" stroke-width="1.1"/>
<text transform="translate(353.55,259.60) scale(1,1.24)" class="xt">500</text>
<line x1="373.85" y1="248.10" x2="373.85" y2="251.30" stroke="#333333" stroke-width="1.1"/>
<text transform="translate(373.85,259.60) scale(1,1.24)" class="xt">0</text>
<line x1="446.75" y1="248.10" x2="446.75" y2="251.30" stroke="#333333" stroke-width="1.1"/>
<text transform="translate(446.75,259.60) scale(1,1.24)" class="xt">250</text>
<line x1="519.65" y1="248.10" x2="519.65" y2="251.30" stroke="#333333" stroke-width="1.1"/>
<text transform="translate(519.65,259.60) scale(1,1.24)" class="xt">500</text>
<text x="280.8" y="272.3" class="ti" text-anchor="middle">Epochs</text>
<text transform="translate(13.0,150.65) rotate(-90) scale(1.115,1)" class="ti" text-anchor="middle">Mean squared errors</text>
<line x1="230.1" y1="286.8" x2="243.2" y2="286.8" stroke="#F8766D" stroke-width="1.15"/>
<text transform="translate(250.6,290.3) scale(1,1.2)" class="lg">Training</text>
<line x1="288.7" y1="286.8" x2="301.8" y2="286.8" stroke="#00BFC4" stroke-width="1.15"/>
<text transform="translate(309.0,290.3) scale(1,1.2)" class="lg">Testing</text>
</g>
</svg>
</body></html>
